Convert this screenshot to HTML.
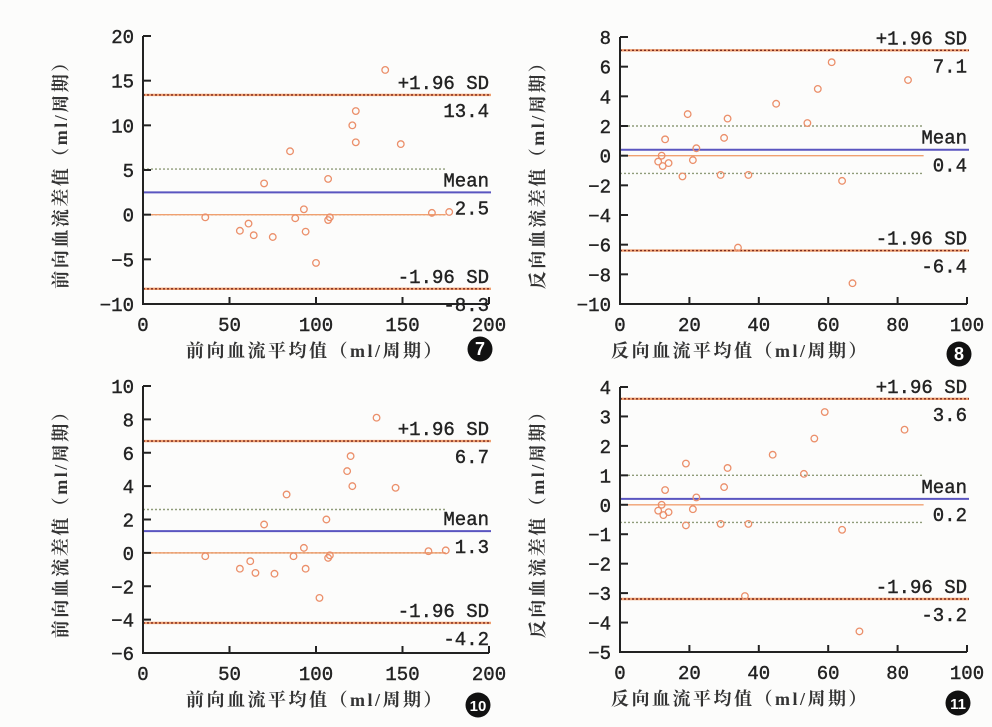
<!DOCTYPE html>
<html><head><meta charset="utf-8">
<style>
html,body{margin:0;padding:0;background:#fcfcfb;}
svg{display:block;}
.tk{font-family:"Liberation Mono","DejaVu Sans Mono",monospace;font-size:19px;fill:#222;stroke:#222;stroke-width:0.4;}
.lb{font-family:"Liberation Mono","DejaVu Sans Mono",monospace;font-size:19px;fill:#222;stroke:#222;stroke-width:0.4;}
.ti{font-family:"Liberation Serif","Noto Serif CJK SC",serif;font-size:18px;letter-spacing:2.5px;fill:#333;font-weight:bold;}
</style></head>
<body>
<svg id="chart" width="992" height="727" xmlns="http://www.w3.org/2000/svg"></svg>
<script>
// Panel 7: forward flow
const p7X = [36,56,61,64,70,75,85,88,93,94,100,107,108,107,121,123,123,140,149,167,177];
const p7Y = [-0.3,-1.8,-1.0,-2.3,3.5,-2.5,7.1,-0.4,0.6,-1.9,-5.4,-0.6,-0.3,4.0,10,11.6,8.1,16.2,7.9,0.2,0.3];
const p7Stats = [13.4, 2.5, -8.3];
const p7CI = [5.1, 0];
const p7YTicks = [20,15,10,5,0,-5,-10];
const p7XTicks = [0,50,100,150,200];
// Panel 8: reverse flow
const p8X = [11,12,12.3,13,14,18,19.5,21,22,29,30,31,34,37,45,54,57,61,64,67,83];
const p8Y = [-0.4,0,-0.7,1.1,-0.5,-1.4,2.8,-0.3,0.5,-1.3,1.2,2.5,-6.2,-1.3,3.5,2.2,4.5,6.3,-1.7,-8.6,5.1];
const p8Stats = [7.1, 0.4, -6.4];
const p8CI = [2.0, -1.2];
const p8YTicks = [8,6,4,2,0,-2,-4,-6,-8,-10];
const p8XTicks = [0,20,40,60,80,100];
// Panel 10
const p10X = [36,56,62,65,70,76,83,87,93,94,102,106,107,108,118,120,121,135,146,165,175];
const p10Y = [-0.2,-0.95,-0.5,-1.2,1.7,-1.25,3.5,-0.2,0.3,-0.95,-2.7,2.0,-0.3,-0.15,4.9,5.8,4.0,8.1,3.9,0.1,0.15];
const p10Stats = [6.7, 1.3, -4.2];
const p10CI = [2.6, 0];
const p10YTicks = [10,8,6,4,2,0,-2,-4,-6];
const p10XTicks = [0,50,100,150,200];
// Panel 11
const p11X = [11,12,12.5,13,14,19,19,21,22,29,30,31,36,37,44,53,56,59,64,69,82];
const p11Y = [-0.2,0,-0.35,0.5,-0.25,1.4,-0.7,-0.15,0.25,-0.65,0.6,1.25,-3.1,-0.65,1.7,1.05,2.25,3.15,-0.85,-4.3,2.55];
const p11Stats = [3.6, 0.2, -3.2];
const p11CI = [1.0, -0.6];
const p11YTicks = [4,3,2,1,0,-1,-2,-3,-4,-5];
const p11XTicks = [0,20,40,60,80,100];

const NS = "http://www.w3.org/2000/svg";
const svg = document.getElementById('chart');
function mk(tag, attrs, parent, text){
  const e = document.createElementNS(NS, tag);
  for (const k in attrs) e.setAttribute(k, attrs[k]);
  if (text !== undefined) e.textContent = text;
  parent.appendChild(e);
  return e;
}

function panel(cfg, xs, ys, stats, ci, yticks, xticks){
  const g = mk('g', {}, svg);
  
  
  const ymax = yticks[0], ymin = yticks[yticks.length-1];
  const xmin = xticks[0], xmax = xticks[xticks.length-1];
  const sx = v => cfg.x0 + (v - xmin) / (xmax - xmin) * (cfg.x1 - cfg.x0);
  const sy = v => cfg.yb + (v - ymin) / (ymax - ymin) * (cfg.yt - cfg.yb);
  const ciEnd = sx(xmin + (xmax - xmin) * 0.875);
  ci.forEach((v, i) => {
    const l = mk('line', {x1: cfg.x0, x2: ciEnd, y1: sy(v), y2: sy(v), stroke: '#8f9c7a', 'stroke-width': 1.4, 'stroke-dasharray': '2,2'}, g);
    
    
  });
  const z = mk('line', {x1: cfg.x0, x2: ciEnd, y1: sy(0), y2: sy(0), stroke: '#f0a070', 'stroke-width': 1.4}, g);
  
  
  [stats[0], stats[2]].forEach(v => {
    mk('line', {x1: cfg.x0, x2: cfg.x1+2, y1: sy(v), y2: sy(v), stroke: '#f0a070', 'stroke-width': 2.4}, g);
    const l = mk('line', {x1: cfg.x0, x2: cfg.x1+2, y1: sy(v), y2: sy(v), stroke: '#7a2a20', 'stroke-width': 1.4, 'stroke-dasharray': '2,2'}, g);
    
    
  });
  const m = mk('line', {x1: cfg.x0, x2: cfg.x1+2, y1: sy(stats[1]), y2: sy(stats[1]), stroke: '#5a55c0', 'stroke-width': 2}, g);
  
  
  const labs = [['+1.96 SD', stats[0], -6], [stats[0].toFixed(1), stats[0], 22], ['Mean', stats[1], -6], [stats[1].toFixed(1), stats[1], 22], ['-1.96 SD', stats[2], -6], [stats[2].toFixed(1), stats[2], 22]];
  labs.forEach(a => {
    const t = mk('text', {x: cfg.x1, y: sy(a[1]) + a[2], class: 'lb', 'text-anchor': 'end'}, g, a[0]);
    
    
  });
  xs.forEach((xv, i) => {
    const c = mk('circle', {cx: sx(xv), cy: sy(ys[i]), r: 3.3, fill: 'none', stroke: '#eb8f6a', 'stroke-width': 1.3}, g);
    
    
  });
  const ax = mk('path', {d: `M${cfg.x0},${cfg.yt} V${cfg.yb} H${cfg.x1}`, stroke: '#222', 'stroke-width': 2, fill: 'none'}, g);
  
  
  yticks.forEach(v => {
    mk('line', {x1: cfg.x0, x2: cfg.x0 + 8, y1: sy(v), y2: sy(v), stroke: '#222', 'stroke-width': 2}, g);
    const t = mk('text', {x: cfg.x0 - 9, y: sy(v) + 7, class: 'tk', 'text-anchor': 'end'}, g, String(v).replace('-', '\u2212'));
    
    
  });
  xticks.forEach(v => {
    mk('line', {x1: sx(v), x2: sx(v), y1: cfg.yb, y2: cfg.yb - 7, stroke: '#222', 'stroke-width': 2}, g);
    const t = mk('text', {x: sx(v), y: cfg.yb + 27, class: 'tk', 'text-anchor': 'middle'}, g, String(v));
    
    
  });
  const xt = mk('text', {x: cfg.xtx, y: cfg.yb + 53, class: 'ti', 'text-anchor': 'middle'}, g, cfg.xt);
  
  
  const cy = (cfg.yt + cfg.yb) / 2;
  const yt = mk('text', {x: cfg.ytx, y: cy, class: 'ti', 'text-anchor': 'middle', transform: `rotate(-90 ${cfg.ytx} ${cy})`}, g, cfg.yt_);
  
  
  const b = mk('circle', {cx: cfg.bx, cy: cfg.by, r: 12.5, fill: '#111'}, g);
  
  
  mk('text', {x: cfg.bx, y: cfg.by + 6, 'text-anchor': 'middle', 'font-family': 'Liberation Sans, sans-serif', 'font-weight': 'bold', 'font-size': cfg.num.length > 1 ? 15 : 18, fill: '#fff'}, g, cfg.num);
}

panel({name:'panel-7', x0:143, x1:489, yt:36, yb:304, xt:'前向血流平均值（ml/周期）', yt_:'前向血流差值（ml/周期）', xtx:315, ytx:67, bx:480, by:349, num:'7'}, p7X, p7Y, p7Stats, p7CI, p7YTicks, p7XTicks);
panel({name:'panel-8', x0:620, x1:967, yt:37, yb:304, xt:'反向血流平均值（ml/周期）', yt_:'反向血流差值（ml/周期）', xtx:740, ytx:544, bx:959, by:354, num:'8'}, p8X, p8Y, p8Stats, p8CI, p8YTicks, p8XTicks);
panel({name:'panel-10', x0:143, x1:489, yt:386, yb:653, xt:'前向血流平均值（ml/周期）', yt_:'前向血流差值（ml/周期）', xtx:315, ytx:67, bx:478, by:705, num:'10'}, p10X, p10Y, p10Stats, p10CI, p10YTicks, p10XTicks);
panel({name:'panel-11', x0:620, x1:967, yt:387, yb:652, xt:'反向血流平均值（ml/周期）', yt_:'反向血流差值（ml/周期）', xtx:740, ytx:544, bx:958, by:703, num:'11'}, p11X, p11Y, p11Stats, p11CI, p11YTicks, p11XTicks);
</script>
</body></html>
